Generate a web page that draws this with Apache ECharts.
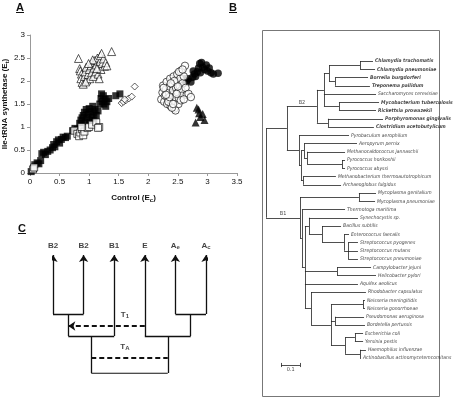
<!DOCTYPE html>
<html lang="en">
<head>
<meta charset="utf-8">
</head>
<body style="margin: 0; background: #fff">
<div id="container" style="width: 474px; height: 399px;"></div>
<script type="text/javascript" src="https://cdn.jsdelivr.net/npm/echarts@6/dist/echarts.min.js"></script>
<script type="text/javascript">
// ---- panel A: [control (Ec), Ile-tRNA synthetase (Et)]
var openTriangles = [[0.82,2.49],[0.84,2.27],[0.85,2.22],[0.87,2.15],[0.86,2.05],[0.88,1.97],[0.90,1.93],[0.92,2.10],[0.93,2.20],[0.95,2.30],
  [0.96,2.02],[0.98,2.14],[1.00,2.25],[1.01,2.05],[1.03,2.33],[1.04,2.18],[1.05,2.40],[1.07,2.10],[1.08,2.28],[1.10,2.45],
  [1.11,2.20],[1.12,2.35],[1.14,2.50],[1.15,2.15],[1.16,2.30],[1.18,2.42],[1.19,2.55],[1.20,2.25],[1.22,2.38],[1.24,2.48],
  [1.26,2.32],[1.28,2.40],[1.30,2.33],[1.38,2.64],[1.21,2.60],[1.13,2.27],[0.94,1.98],[1.06,2.46],[1.17,2.05],[0.99,2.38]];
var filledSquares = [[0.02,0.03],[0.06,0.10],[0.08,0.18],[0.12,0.22],[0.15,0.20],[0.18,0.27],[0.20,0.42],[0.23,0.45],[0.26,0.40],[0.30,0.47],
  [0.34,0.50],[0.38,0.55],[0.40,0.62],[0.42,0.57],[0.45,0.68],[0.48,0.72],[0.50,0.65],[0.53,0.73],[0.56,0.78],[0.60,0.77],
  [0.63,0.80],[0.72,0.92],[0.76,0.97],[0.80,0.95],[0.84,1.08],[0.86,1.15],[0.88,1.20],[0.90,1.25],[0.92,1.32],[0.93,1.10],
  [0.95,1.38],[0.96,1.20],[0.98,1.28],[1.00,1.40],[1.01,1.15],[1.03,1.33],[1.05,1.22],[1.06,1.45],[1.08,1.30],[1.10,1.38],
  [1.12,1.25],[1.15,1.35],[1.18,1.50],[1.20,1.62],[1.21,1.72],[1.22,1.55],[1.24,1.68],[1.25,1.50],[1.27,1.60],[1.28,1.45],
  [1.30,1.55],[1.33,1.62],[1.45,1.68],[1.52,1.72],[0.88,1.05],[1.00,1.05],[1.08,1.15]];
var openSquares = [[0.05,0.08],[0.07,0.12],[0.75,0.92],[0.80,0.85],[0.83,0.80],[0.85,0.88],[0.88,0.95],[0.90,0.82],[0.92,0.90],[0.97,0.98],
  [1.00,1.00],[1.05,1.05],[1.12,1.10],[1.17,1.00],[1.15,0.98],[0.87,1.00]];
var openDiamonds = [[1.55,1.52],[1.58,1.55],[1.62,1.58],[1.67,1.62],[1.72,1.66],[1.77,1.88],[1.60,1.60]];
var openCircles = [[2.22,1.60],[2.24,1.75],[2.25,1.90],[2.27,1.55],[2.28,1.68],[2.30,1.82],[2.31,1.98],[2.32,1.50],[2.33,1.62],[2.35,1.75],
  [2.36,1.88],[2.37,2.05],[2.38,1.45],[2.39,1.58],[2.40,1.70],[2.41,1.92],[2.42,1.80],[2.43,2.10],[2.44,1.40],[2.45,1.55],
  [2.46,1.65],[2.47,1.85],[2.48,1.98],[2.49,2.15],[2.50,1.75],[2.51,1.50],[2.52,1.62],[2.53,1.90],[2.54,2.05],[2.55,2.22],
  [2.56,1.80],[2.57,1.68],[2.58,1.95],[2.60,2.10],[2.62,2.33],[2.63,1.85],[2.65,1.70],[2.68,1.72],[2.72,1.65],[2.46,1.36],
  [2.40,1.42],[2.34,1.55],[2.44,2.00],[2.36,1.65],[2.52,2.20],[2.58,2.25],[2.48,1.72],[2.30,1.70],[2.26,1.85],[2.42,1.50],
  [2.55,1.58],[2.60,1.60],[2.50,1.88],[2.38,1.95]];
var filledCircles = [[2.55,1.90],[2.60,1.95],[2.65,2.00],[2.68,2.05],[2.72,1.98],[2.75,2.08],[2.78,2.15],[2.80,2.10],[2.83,2.20],[2.85,2.28],
  [2.87,2.38],[2.90,2.40],[2.92,2.30],[2.95,2.25],[2.98,2.35],[3.00,2.22],[3.03,2.28],[3.06,2.18],[3.10,2.15],[3.18,2.17],
  [2.88,2.18],[2.76,2.22],[2.62,2.05]];
var filledTriangles = [[2.82,1.42],[2.85,1.38],[2.80,1.10],[2.88,1.22],[2.92,1.28],[2.95,1.15],[2.86,1.30]];

// ---- panel B: leaves top to bottom, tip depth (substitutions/site)
var leafNames = ['Chlamydia trachomatis','Chlamydia pneumoniae','Borrelia burgdorferi','Treponema pallidum',
  'Saccharomyces cerevisiae','Mycobacterium tuberculosis','Rickettsia prowazekii','Porphyromonas gingivalis',
  'Clostridium acetobutylicum','Pyrobaculum aerophilum','Aeropyrum pernix','Methanocaldococcus jannaschii',
  'Pyrococcus horikoshii','Pyrococcus abyssi','Methanobacterium thermoautotrophicum','Archaeoglobus fulgidus',
  'Mycoplasma genitalium','Mycoplasma pneumoniae','Thermotoga maritima','Synechocystis sp.','Bacillus subtilis',
  'Enterococcus faecalis','Streptococcus pyogenes','Streptococcus mutans','Streptococcus pneumoniae',
  'Campylobacter jejuni','Helicobacter pylori','Aquifex aeolicus','Rhodobacter capsulatus','Neisseria meningitidis',
  'Neisseria gonorrhoeae','Pseudomonas aeruginosa','Bordetella pertussis','Escherichia coli','Yersinia pestis',
  'Haemophilus influenzae','Actinobacillus actinomycetemcomitans'];
var leafDepth = [0.563,0.574,0.537,0.547,0.579,0.595,0.579,0.616,0.568,0.437,0.479,0.416,0.416,0.416,0.368,0.395,
  0.579,0.574,0.416,0.484,0.395,0.437,0.484,0.484,0.484,0.553,0.579,0.484,0.526,0.521,0.521,0.516,0.521,0.511,0.511,
  0.526,0.5];
var boldLeaves = [0,1,2,3,5,6,7,8];
// node = [depth, child, child, ...]; a number is a leaf index
var treeB = [0,
  [0.11,
    [0.268,
      [0.305, [0.332, [0.495, 0, 1], [0.363, 2, 3]], 4, [0.384, 5, 6]],
      [0.326, 7, 8]],
    [0.174, 9,
      [0.184, [0.2, 10, [0.216, 11, [0.4, 12, 13]]], [0.195, 14, 15]]]],
  [0.179,
    [0.489, 16, 17],
    [0.189, 18,
      [0.205,
        [0.226, 19, [0.295, 20, [0.411, 21, [0.432, 22, 23, 24]]]],
        [0.374, 25, 26],
        27,
        [0.237, 28, [0.342, [0.511, 29, 30], [0.363, 31, 32], [0.416, [0.468, 33, 34], [0.495, 35, 36]]]]]]]];
var branchTags = {'0.268': 'B2', '0.179': 'B1'};
var scaleBarLength = 0.1;

// ---- panel C
var cLeaves = ['B2', 'B2', 'B1', 'E', 'A{s|e}', 'A{s|c}'];
var treeC = [118, [81, [59, 0, 1], 2], [81, 3, [59, 4, 5]]];
var transferT1 = {from: 3, to: 0.5, level: 71};
var transferTA = {from: 1.25, to: 3.75, level: 103};

function layoutTree(node, tipDepth, segs, tags, tagOut) {
    if (typeof node === 'number') return {pos: node, depth: tipDepth(node), leaf: true};
    var d = node[0];
    var kids = node.slice(1).map(function (k) { return layoutTree(k, tipDepth, segs, tags, tagOut); });
    var first = kids[0].pos, last = kids[kids.length - 1].pos;
    segs.push({a: [d, first], b: [d, last], leaf: false});
    kids.forEach(function (k) {
        segs.push({a: [d, k.pos], b: [k.depth, k.pos], leaf: k.leaf});
        if (tags && !k.leaf && tags[String(k.depth)]) tagOut.push({name: tags[String(k.depth)], value: [(d + k.depth) / 2, k.pos]});
    });
    return {pos: (first + last) / 2, depth: d};
}

var segB = [], tagsB = [];
layoutTree(treeB, function (i) { return leafDepth[i]; }, segB, branchTags, tagsB);

var segC = [];
layoutTree(treeC, function () { return 0; }, segC);
// C is drawn vertically: swap to [pos, level]
function swap(p) { return [p[1], p[0]]; }

var dom = document.getElementById('container');
var myChart = echarts.init(dom, null, {renderer: 'canvas'});

function openStyle() { return {color: '#fff', borderColor: '#000', borderWidth: 0.8}; }
function sc(name, data, symbol, size, style) {
    return {name: name, type: 'scatter', xAxisIndex: 0, yAxisIndex: 0, data: data, symbol: symbol,
        symbolSize: size, itemStyle: style, silent: true};
}
var treeFont = "'Liberation Sans Narrow','DejaVu Sans Condensed','Liberation Sans'";
var subRich = {s: {fontSize: 6, fontWeight: 'bold', verticalAlign: 'bottom', padding: [4, 0, 0, 0]}};

var option = {
    animation: false,
    textStyle: {fontFamily: 'Liberation Sans'},
    grid: [
        {left: 30, top: 35, width: 207, height: 138},
        {left: 266, top: 61, width: 171, height: 313.5},
        {left: 53, top: 255, width: 153, height: 118}
    ],
    xAxis: [
        {gridIndex: 0, type: 'value', min: 0, max: 3.5, interval: 0.5,
            name: 'Control (E{s|c})', nameLocation: 'middle', nameGap: 20,
            nameTextStyle: {fontSize: 8, fontWeight: 'bold', color: '#111', rich: subRich},
            axisLine: {lineStyle: {color: '#999', width: 1}},
            axisTick: {show: true, length: 3, lineStyle: {color: '#999'}},
            axisLabel: {fontSize: 8, color: '#111', margin: 5},
            splitLine: {show: false}},
        {gridIndex: 1, type: 'value', min: 0, max: 0.9, show: false},
        {gridIndex: 2, type: 'value', min: 0, max: 5, show: false}
    ],
    yAxis: [
        {gridIndex: 0, type: 'value', min: 0, max: 3, interval: 0.5,
            name: 'Ile-tRNA synthetase (E{s|t})', nameLocation: 'middle', nameGap: 19,
            nameTextStyle: {fontSize: 8, fontWeight: 'bold', color: '#111', rich: subRich},
            axisLine: {show: true, lineStyle: {color: '#999', width: 1}},
            axisTick: {show: true, length: 3, lineStyle: {color: '#999'}},
            axisLabel: {fontSize: 8, color: '#111', margin: 5},
            splitLine: {show: false}},
        {gridIndex: 1, type: 'value', min: 0, max: 38, inverse: true, show: false},
        {gridIndex: 2, type: 'value', min: 0, max: 118, inverse: true, show: false}
    ],
    series: [
        sc('filled squares', filledSquares, 'rect', 7, {color: '#000'}),
        sc('open squares', openSquares, 'rect', 7, openStyle()),
        sc('open triangles', openTriangles, 'triangle', 8, openStyle()),
        sc('open diamonds', openDiamonds, 'diamond', 7, openStyle()),
        sc('filled circles', filledCircles, 'circle', 7.5, {color: '#000'}),
        sc('open circles', openCircles, 'circle', 7.5, openStyle()),
        sc('filled triangles', filledTriangles, 'triangle', 8, {color: '#000'}),
        // panel B tree
        {type: 'lines', coordinateSystem: 'cartesian2d', xAxisIndex: 1, yAxisIndex: 1, polyline: false, silent: true,
            lineStyle: {color: '#222', width: 0.8, opacity: 1},
            data: segB.map(function (s) { return {coords: [s.a, s.b]}; })},
        {type: 'scatter', xAxisIndex: 1, yAxisIndex: 1, symbolSize: 0, silent: true,
            data: leafNames.map(function (n, i) {
                return {name: n, value: [leafDepth[i], i],
                    label: {fontWeight: boldLeaves.indexOf(i) >= 0 ? 'bold' : 'normal'}};
            }),
            label: {show: true, position: 'right', distance: 2, formatter: '{b}', fontSize: 5,
                fontStyle: 'italic', fontFamily: treeFont, color: '#111'}},
        {type: 'scatter', xAxisIndex: 1, yAxisIndex: 1, symbolSize: 0, silent: true, data: tagsB,
            label: {show: true, position: 'top', distance: 1, formatter: '{b}', fontSize: 5.5, fontFamily: treeFont, color: '#111'}},
        // scale bar
        {type: 'lines', coordinateSystem: 'cartesian2d', xAxisIndex: 1, yAxisIndex: 1, polyline: false, silent: true,
            lineStyle: {color: '#222', width: 0.8, opacity: 1},
            data: [{coords: [[0.08, 36.85], [0.08 + scaleBarLength, 36.85]]},
                {coords: [[0.08, 36.6], [0.08, 37.1]]},
                {coords: [[0.08 + scaleBarLength, 36.6], [0.08 + scaleBarLength, 37.1]]}]},
        {type: 'scatter', xAxisIndex: 1, yAxisIndex: 1, symbolSize: 0, silent: true,
            data: [{name: String(scaleBarLength), value: [0.08 + scaleBarLength / 2, 36.85]}],
            label: {show: true, position: 'bottom', distance: 2, formatter: '{b}', fontSize: 5.5, fontFamily: treeFont, color: '#111'}},
        // panel C diagram
        {type: 'lines', coordinateSystem: 'cartesian2d', xAxisIndex: 2, yAxisIndex: 2, polyline: false, silent: true,
            lineStyle: {color: '#111', width: 1.3, opacity: 1},
            data: segC.filter(function (s) { return !s.leaf; }).map(function (s) { return {coords: [swap(s.a), swap(s.b)]}; })},
        {type: 'lines', coordinateSystem: 'cartesian2d', xAxisIndex: 2, yAxisIndex: 2, polyline: false, silent: true,
            symbol: ['none', 'arrow'], symbolSize: 7,
            lineStyle: {color: '#111', width: 1.3, opacity: 1},
            data: segC.filter(function (s) { return s.leaf; }).map(function (s) { return {coords: [swap(s.a), swap(s.b)]}; })},
        {type: 'lines', coordinateSystem: 'cartesian2d', xAxisIndex: 2, yAxisIndex: 2, polyline: false, silent: true,
            symbol: ['none', 'arrow'], symbolSize: 7,
            lineStyle: {color: '#111', width: 2, type: [5, 3], opacity: 1},
            data: [{coords: [[transferT1.from, transferT1.level], [transferT1.to, transferT1.level]]}]},
        {type: 'lines', coordinateSystem: 'cartesian2d', xAxisIndex: 2, yAxisIndex: 2, polyline: false, silent: true,
            lineStyle: {color: '#111', width: 2, type: [5, 3], opacity: 1},
            data: [{coords: [[transferTA.from, transferTA.level], [transferTA.to, transferTA.level]]}]},
        {type: 'scatter', xAxisIndex: 2, yAxisIndex: 2, symbolSize: 0, silent: true,
            data: cLeaves.map(function (n, i) { return {name: n, value: [i, 0]}; }),
            label: {show: true, position: 'top', distance: 5, formatter: '{b}', fontSize: 8, fontWeight: 'bold', color: '#111',
                rich: {s: {fontSize: 6, fontWeight: 'bold', verticalAlign: 'bottom', padding: [3, 0, 0, 0]}}}},
        {type: 'scatter', xAxisIndex: 2, yAxisIndex: 2, symbolSize: 0, silent: true,
            data: [{name: 'T{s|1}', value: [2.35, transferT1.level]}, {name: 'T{s|A}', value: [2.35, transferTA.level]}],
            label: {show: true, position: 'top', distance: 7, formatter: '{b}', fontSize: 8, fontWeight: 'bold', color: '#111',
                rich: {s: {fontSize: 6, fontWeight: 'bold', verticalAlign: 'bottom', padding: [3, 0, 0, 0]}}}}
    ],
    graphic: [
        {type: 'text', left: 16, top: 2, style: {text: 'A', font: 'bold 11px Liberation Sans', fill: '#111'}},
        {type: 'line', shape: {x1: 16, y1: 12.5, x2: 24, y2: 12.5}, style: {stroke: '#111', lineWidth: 1}},
        {type: 'text', left: 229, top: 2, style: {text: 'B', font: 'bold 11px Liberation Sans', fill: '#111'}},
        {type: 'line', shape: {x1: 229, y1: 12.5, x2: 237, y2: 12.5}, style: {stroke: '#111', lineWidth: 1}},
        {type: 'text', left: 18, top: 223, style: {text: 'C', font: 'bold 11px Liberation Sans', fill: '#111'}},
        {type: 'line', shape: {x1: 18, y1: 233.5, x2: 26, y2: 233.5}, style: {stroke: '#111', lineWidth: 1}},
        {type: 'rect', shape: {x: 262.5, y: 30.5, width: 177, height: 366}, style: {stroke: '#777', fill: 'none', lineWidth: 1}}
    ]
};
myChart.setOption(option);
</script>
</body>
</html>
